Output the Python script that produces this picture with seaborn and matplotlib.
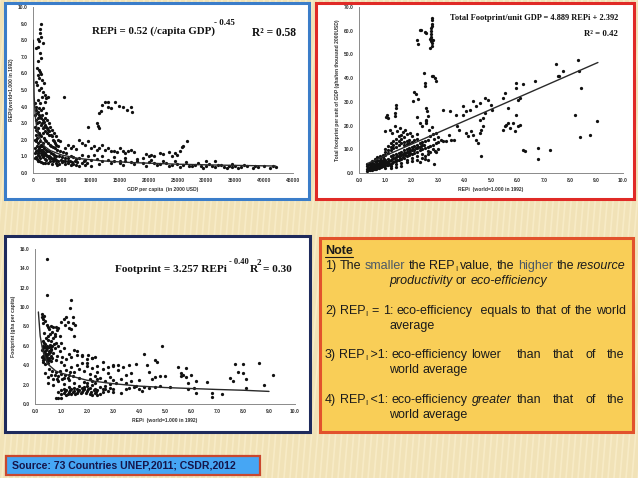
import matplotlib
matplotlib.use("Agg")
import matplotlib.pyplot as plt
import seaborn as sns
import pandas as pd
from matplotlib.patches import Rectangle
from matplotlib.lines import Line2D

# ---------------- data ----------------
# Panel 1: REPi vs GDP per capita
p1_points = [
    (1420,9.0),(1250,8.7),(1150,8.45),(1350,8.2),(1000,7.95),(800,8.05),(1700,7.85),(600,7.5),(1150,7.2),(900,7.6),
    (850,6.75),(1300,6.9),(700,6.3),(1000,6.2),(1250,6.1),(1450,5.95),(800,5.9),(1100,5.7),(1600,5.6),(1900,5.45),
    (500,5.5),(750,5.3),(1050,5.0),(1350,5.1),(1700,4.9),(2000,4.7),(2300,4.5),(2600,4.6),(2100,4.3),(1500,4.6),
    (400,4.2),(600,4.0),(800,4.4),(1000,3.9),(1200,4.2),(1400,3.8),(1600,3.5),(1800,3.9),(2000,3.3),(2200,3.6),
    (2500,3.2),(2800,3.0),(3000,2.8),(3300,2.6),(3700,2.4),(4000,2.2),(4300,2.0),(4600,1.9),(350,3.5),(500,3.2),
    (700,3.0),(900,3.3),(1100,3.1),(1300,2.9),(1500,3.0),(1700,2.7),(1900,2.8),(2100,2.5),(2400,2.4),(2700,2.3),
    (300,2.8),(450,2.6),(650,2.5),(850,2.7),(1050,2.4),(1250,2.3),(1450,2.2),(1650,2.4),(1850,2.1),(2050,2.0),
    (2300,1.9),(2600,1.8),(2900,1.7),(3200,1.6),(3500,1.55),(3800,1.5),(4200,1.4),(4700,1.3),(5200,1.25),(5700,1.2),
    (350,2.0),(550,1.9),(750,2.1),(950,1.8),(1150,1.9),(1350,1.7),(1550,1.6),(1750,1.8),(1950,1.5),(2200,1.4),
    (2500,1.35),(2800,1.3),(3100,1.2),(3400,1.15),(3700,1.1),(4000,1.05),(4500,1.0),(5000,0.95),(5500,0.9),(6000,0.88),
    (400,1.5),(600,1.3),(800,1.1),(1000,1.0),(1200,0.9),(1400,1.2),(1600,1.1),(1800,0.95),(2000,0.85),(2300,0.8),
    (500,0.95),(700,0.85),(900,0.75),(1100,0.7),(1300,0.65),(1700,0.6),(2100,0.62),(2600,0.6),(3000,0.7),(3500,0.75),
    (4000,0.6),(4500,0.55),(5000,0.65),(5500,0.55),(6000,0.6),(6500,0.5),(7000,0.55),(7500,0.5),(8000,0.45),(9000,0.5),
    (10000,0.45),(4200,0.5),(3300,0.55),(2800,1.0),(3600,0.9),(6500,1.0),(7000,0.95),(7500,0.85),(8000,0.9),(9000,0.8),
    (10000,0.8),(11000,0.85),(12000,0.75),(13000,0.8),(14000,0.7),(15000,0.75),(16000,0.7),(17000,0.65),(18000,0.7),(19000,0.6),
    (20000,0.65),(21000,0.6),(22000,0.55),(23000,0.6),(24000,0.5),(25000,0.55),(26000,0.5),(27000,0.45),(28000,0.5),(29000,0.4),
    (30000,0.45),(31000,0.4),(32000,0.5),(33000,0.35),(34000,0.4),(35000,0.45),(36000,0.35),(37000,0.4),(38000,0.3),(39000,0.35),
    (40000,0.4),(41000,0.3),(42000,0.35),(11500,0.55),(13500,0.6),(15500,0.5),(17500,0.55),(19500,0.45),(21500,0.5),(23500,0.4),
    (25500,0.35),(27500,0.4),(29500,0.3),(31500,0.35),(33500,0.3),(35500,0.3),(20500,0.8),(22500,0.75),(24500,0.7),(26500,0.65),
    (28500,0.6),(30500,0.55),(32500,0.5),(34500,0.55),(36500,0.5),(30000,0.75),(31500,0.7),(34500,0.35),(38500,0.45),(41500,0.45),
    (12000,1.0),(14000,0.95),(16000,0.9),(18000,0.85),(20000,1.0),(19000,0.9),(10500,1.1),(9500,1.05),(8500,1.1),(15000,0.6),
    (8000,2.0),(8500,1.8),(9000,1.7),(9500,1.9),(10000,1.5),(10500,1.6),(11000,1.4),(11500,1.5),(12000,1.7),(12500,1.4),
    (13000,1.5),(13500,1.35),(14000,1.3),(14500,1.25),(15000,1.5),(15500,1.3),(16000,1.2),(16500,1.35),(17000,1.4),(17500,1.25),
    (7000,1.6),(7500,1.45),(6500,1.5),(6000,1.7),(5500,1.5),
    (19500,1.15),(20500,1.1),(21000,1.05),(22000,1.2),(22500,1.15),(23500,1.25),(24500,1.2),(25500,1.35),(25800,1.55),(26000,1.6),
    (26600,1.9),(24000,1.0),(25000,1.1),
    (5300,4.55),(9500,2.8),(11000,3.0),(11200,2.85),(11350,2.7),(11500,3.6),(11800,3.75),(12000,4.1),(12500,4.25),(12900,4.3),
    (13500,3.9),(14200,4.25),(14800,4.05),(15500,4.0),(16300,3.8),(17000,4.0),(17200,3.7),(13000,4.0),
    (300,1.2),(400,0.9),(500,2.3),(600,2.0),(700,1.6),(800,1.4),(900,1.2),(1000,1.5),(1100,1.3),(1200,1.6),
    (1300,1.4),(1400,1.6),(1500,1.4),(1600,1.3),(1700,1.2),(1800,1.3),(1900,1.1),(2000,1.2),(2200,1.1),(2400,1.0),
    (2600,1.0),(2800,0.9),(3000,0.95),(3200,0.9),(3400,0.85),(3600,0.8),(3800,0.85),(4000,0.8),(4400,0.75),(4800,0.8),
    (5200,0.7),(5600,0.75),(6000,0.7),(6400,0.7),(6800,0.65),(7200,0.7),(7600,0.65),(8400,0.6),(8800,0.7),(9400,0.6),
    (450,3.8),(650,3.6),(850,3.7),(1050,3.5),(1250,3.4),(1450,3.3),(1650,3.2),(1850,3.1),(2050,2.9),(2250,2.8),
    (2450,2.7),(2650,2.6),(2850,2.5),(3050,2.3),(3250,2.2),(3450,2.0),(3650,1.9),(3850,1.8),(4050,1.7),(4250,1.65),
]
p1_fit_x = [60, 100, 200, 400, 700, 1000, 2000, 3000, 5000, 8000, 12000, 17000, 25000, 33000, 42000]
p1_fit_y = [8.0, 6.3, 4.6, 3.4, 2.6, 2.2, 1.6, 1.35, 1.08, 0.87, 0.73, 0.63, 0.53, 0.47, 0.42]

# Panel 2: total footprint per unit GDP vs REPi
p2_points = [
    (2.77,65.5),(2.78,64.5),(2.76,63.0),(2.75,62.0),(2.74,61.0),(2.73,60.0),(2.72,58.5),(2.72,57.5),(2.71,56.5),(2.74,55.5),
    (2.76,55.0),(2.70,52.5),(2.78,53.5),(2.80,56.0),(2.68,56.5),(2.20,56.2),(2.23,54.2),(2.30,60.2),(2.49,59.5),(2.55,59.0),
    (2.36,60.2),(2.45,42.2),(2.80,40.8),(2.87,40.1),(2.90,38.7),(2.49,38.0),(2.49,36.8),(2.75,41.0),(2.10,34.2),(2.17,33.5),
    (2.23,31.4),(2.05,30.2),(1.39,28.8),(1.39,27.4),(1.37,25.3),(1.36,23.9),(1.06,24.6),(1.09,23.2),(1.01,23.6),(2.55,27.4),
    (2.58,26.0),(2.61,23.9),(2.55,22.5),(2.52,21.1),(2.87,9.1),(2.83,3.8),(3.18,26.7),(3.43,26.0),(3.69,24.6),(3.94,24.6),
    (4.07,26.0),(4.19,26.7),(4.07,16.9),(4.13,15.5),(4.26,17.6),(4.32,16.2),(4.44,14.1),(4.50,12.7),(4.57,16.9),(4.63,18.3),
    (4.70,19.7),(4.63,7.0),(4.44,28.1),(4.57,29.5),(4.76,31.6),(4.89,30.9),(5.01,28.8),(5.05,26.7),(4.32,30.2),(3.94,28.1),
    (4.76,25.3),(4.60,22.5),(4.70,23.0),(5.45,18.3),(5.52,19.7),(5.58,20.4),(5.64,21.1),(5.71,19.0),(5.83,21.1),(5.90,17.6),
    (6.02,19.7),(6.11,20.4),(5.96,24.6),(5.45,31.6),(5.52,33.8),(5.64,27.4),(5.93,38.0),(5.96,35.9),(6.11,31.6),(6.02,30.9),
    (6.21,37.7),(6.65,38.7),(6.21,9.8),(6.27,9.4),(6.78,10.5),(6.78,5.9),(7.25,9.6),(7.45,46.0),(7.54,40.8),(7.57,41.0),
    (7.72,42.9),(8.31,47.8),(8.33,42.9),(8.42,35.9),(8.19,24.6),(8.38,15.2),(8.74,16.2),(9.02,21.8),
    (0.30,1.5),(0.35,2.0),(0.40,2.5),(0.45,1.8),(0.50,3.0),(0.55,2.2),(0.60,3.5),(0.65,2.8),(0.70,4.0),(0.75,3.2),
    (0.80,4.5),(0.85,3.8),(0.90,5.0),(0.95,4.2),(1.00,5.5),(0.30,2.8),(0.35,3.5),(0.40,1.2),(0.45,3.2),(0.50,1.5),
    (0.55,4.0),(0.60,1.8),(0.65,4.5),(0.70,2.2),(0.75,5.0),(0.80,2.5),(0.85,5.5),(0.90,3.0),(0.95,6.0),(1.00,3.5),
    (0.32,1.0),(0.38,1.6),(0.42,2.2),(0.48,2.6),(0.52,2.0),(0.58,2.9),(0.62,3.3),(0.68,3.0),(0.72,3.6),(0.78,4.1),
    (0.82,3.4),(0.88,4.6),(0.92,4.0),(0.98,4.8),(0.40,3.8),(0.50,4.4),(0.60,5.0),(0.70,5.6),(0.80,6.2),(0.90,6.8),
    (1.05,4.5),(1.10,6.0),(1.15,5.2),(1.20,7.0),(1.25,6.0),(1.30,7.5),(1.35,6.5),(1.40,8.0),(1.45,7.0),(1.50,8.5),
    (1.55,7.5),(1.60,9.0),(1.65,8.0),(1.70,9.5),(1.75,8.5),(1.80,10.0),(1.85,9.0),(1.90,10.5),(1.95,9.5),(2.00,11.0),
    (2.05,10.0),(2.10,11.5),(2.15,10.5),(2.20,12.0),(2.25,11.0),(2.30,12.5),(2.35,11.5),(2.40,13.0),(2.45,12.0),(2.50,13.5),
    (1.10,3.5),(1.20,4.0),(1.30,4.5),(1.40,5.0),(1.50,5.5),(1.60,6.0),(1.70,6.5),(1.80,7.0),(1.90,7.5),(2.00,8.0),
    (2.10,8.5),(2.20,9.0),(2.30,9.5),(2.40,10.0),(2.50,10.5),(2.60,11.0),(2.70,11.5),(2.80,12.0),(2.90,12.5),(3.00,13.0),
    (1.00,7.5),(1.10,8.5),(1.20,9.5),(1.30,10.5),(1.40,11.0),(1.50,12.0),(1.60,12.5),(1.70,13.0),(1.80,13.5),(1.90,14.0),
    (1.00,10.0),(1.10,11.5),(1.20,12.5),(1.30,13.5),(1.40,14.5),(1.50,15.5),(1.60,16.0),(1.70,15.0),(1.80,16.5),(2.00,15.5),
    (0.97,17.6),(1.16,18.3),(1.35,19.7),(1.54,19.0),(1.73,18.3),(1.92,16.9),(1.25,17.0),(1.45,17.5),(1.65,17.2),(2.20,16.5),
    (2.60,14.0),(2.70,15.5),(2.80,16.5),(2.90,17.0),(2.65,18.0),(2.75,19.5),(2.85,14.5),(3.00,15.0),(3.10,14.0),(3.20,13.5),
    (2.40,6.5),(2.50,7.0),(2.60,8.0),(2.70,9.0),(2.20,5.5),(2.00,5.0),(1.80,4.5),(1.60,3.0),(1.40,2.5),(1.20,2.0),
    (2.90,9.0),(3.00,10.0),(2.50,6.0),(2.30,4.5),(2.60,5.5),(3.30,13.5),(3.50,13.8),(3.60,14.0),(3.40,16.0),(3.80,18.0),
    (3.70,20.0),(2.20,23.5),(2.30,21.0),(2.40,20.0),(2.55,22.0),
    (0.35,1.2),(0.40,1.8),(0.45,2.4),(0.50,1.1),(0.55,1.6),(0.60,2.4),(0.65,1.5),(0.70,3.0),(0.75,2.0),(0.80,3.6),
    (0.85,2.6),(0.90,3.8),(0.95,2.8),(1.00,4.4),(1.05,3.2),(1.10,4.8),(1.15,3.8),(1.20,5.4),(1.25,4.4),(1.30,6.2),
    (1.35,5.0),(1.40,6.8),(1.45,5.6),(1.50,7.2),(1.55,6.2),(1.60,7.8),(1.65,6.8),(1.70,8.4),(1.75,7.4),(1.80,8.8),
    (1.85,7.8),(1.90,9.2),(1.95,8.4),(2.00,9.8),(2.10,9.6),(2.20,10.4),(2.30,10.8),(2.40,11.6),
    (0.30,3.6),(0.40,4.4),(0.50,5.2),(0.60,5.8),(0.70,6.6),(0.80,7.2),(0.90,7.8),(1.00,8.8),(1.10,9.6),(1.20,10.8),
    (1.30,11.8),(1.40,12.6),(1.50,13.6),(1.60,14.2),(1.70,11.8),(1.80,12.2),(1.90,12.8),(2.00,13.2),(2.10,13.8),(2.20,14.4),
    (1.00,2.0),(1.20,2.8),(1.40,3.6),(1.60,4.2),(1.80,5.6),(2.00,6.4),(2.20,7.2),(2.40,8.2),(2.60,9.2),(2.80,10.2),
]
p2_fit_x = [0.3, 9.05]
p2_fit_y = [3.9, 46.6]

# Panel 3: footprint per capita vs REPi
p3_points = [
    (0.45,15.0),(0.45,11.3),(1.38,10.7),(1.35,9.9),(1.10,8.8),(1.20,9.0),(1.25,8.5),(1.30,7.8),(1.40,7.7),(1.45,8.4),
    (1.50,7.0),(1.15,8.2),(1.45,9.0),(1.55,8.2),(1.00,8.5),
    (0.25,9.3),(0.28,9.0),(0.32,8.8),(0.35,9.1),(0.30,8.4),(0.40,8.6),(0.45,8.2),(0.50,8.0),(0.55,7.7),(0.60,8.1),
    (0.65,7.4),(0.70,7.9),(0.75,7.2),(0.80,8.0),(0.85,7.6),(0.90,7.8),(0.95,7.0),(0.70,6.8),(0.50,7.0),(0.35,7.3),
    (0.30,6.5),(0.40,6.2),(0.50,6.6),(0.60,6.0),(0.45,5.8),(0.55,5.5),(0.35,5.3),(0.30,5.0),(0.40,4.8),(0.50,5.2),
    (0.60,5.0),(0.65,4.7),(0.70,5.3),(0.75,5.8),(0.80,6.3),(0.85,5.0),(0.90,6.0),(0.30,4.5),(0.35,4.6),(0.45,4.4),
    (0.55,4.8),(0.25,4.9),(0.28,5.6),(0.32,6.0),(0.38,5.9),(0.42,5.2),(0.48,4.7),(0.52,5.9),(0.58,5.4),(0.62,6.5),
    (0.30,4.3),(0.40,4.1),(0.50,4.2),(0.60,4.4),(0.95,5.5),(1.00,6.3),(1.05,4.9),(1.10,5.8),
    (0.40,3.2),(0.50,2.8),(0.60,3.0),(0.70,2.6),(0.80,3.3),(0.90,2.9),(1.00,3.1),(1.10,2.7),(1.20,3.5),(1.30,3.0),
    (1.40,3.8),(1.50,3.3),(1.60,4.0),(1.70,3.6),(1.80,4.2),(1.90,3.4),(2.00,3.9),(2.10,3.1),(2.20,3.7),(2.30,2.9),
    (0.50,2.2),(0.70,2.0),(0.90,2.4),(1.10,2.1),(1.30,2.5),(1.50,2.2),(1.70,2.7),(1.90,2.3),(2.10,2.6),(2.30,2.2),
    (2.50,2.7),(2.70,2.4),(2.90,2.8),(2.40,3.3),(2.60,3.6),(2.80,3.2),(3.00,2.5),(1.20,4.6),(1.40,4.9),(1.60,5.5),
    (1.00,4.3),(0.80,4.5),(1.80,5.0),(2.00,4.6),(2.20,4.8),(1.50,5.6),(1.30,5.2),(1.10,4.0),
    (0.80,0.6),(0.90,0.65),(1.00,0.6),(1.00,1.0),(1.10,1.1),(1.20,0.9),(1.30,1.2),(1.40,1.0),(1.50,1.3),(1.60,1.1),
    (1.70,1.4),(1.80,1.2),(1.90,1.5),(2.00,1.3),(2.10,1.0),(2.20,0.9),(2.30,1.1),(2.40,0.95),(2.50,1.0),(2.60,1.2),
    (2.70,1.5),(2.80,1.3),(2.90,1.7),(3.00,1.5),(1.10,1.6),(1.30,1.8),(1.50,1.7),(1.70,1.9),(1.90,1.8),(2.10,1.7),
    (2.30,1.6),(2.50,1.8),(1.20,1.4),(1.40,1.5),(1.60,1.6),(1.80,1.7),(2.00,1.9),(2.20,2.0),(2.40,1.4),(2.60,1.6),
    (1.60,5.1),(1.80,5.1),(2.00,4.2),(2.20,4.8),(2.40,3.9),(2.60,4.3),(2.80,3.8),(3.00,3.9),(3.20,4.0),(2.05,5.1),(2.30,4.9),
    (3.00,4.0),(3.20,3.5),(3.40,3.8),(3.50,3.0),(3.60,4.0),(3.70,3.2),(3.90,4.1),(4.00,2.5),(4.10,1.3),(4.20,5.2),
    (4.30,4.0),(4.40,3.3),(4.50,2.6),(4.60,4.5),(4.60,2.8),(4.70,4.3),(4.80,2.9),(4.90,6.0),(5.00,2.9),(5.20,1.8),
    (5.50,3.8),(5.60,3.2),(5.60,2.9),(5.70,3.0),(5.80,3.7),(5.80,2.8),(5.90,2.2),(5.90,1.6),(6.00,3.0),(6.10,1.7),
    (6.20,1.1),(6.20,2.4),(6.60,2.3),(6.80,1.1),(6.80,0.7),(7.20,1.0),(7.50,2.7),(7.60,2.4),(7.70,4.1),(7.80,3.3),
    (8.00,4.1),(8.00,3.2),(8.10,2.6),(8.10,1.7),(8.60,4.2),(8.80,2.0),(9.15,3.0),
    (3.00,1.2),(3.30,1.1),(3.50,1.5),(3.80,1.8),(4.00,1.6),(4.20,1.8),(4.40,1.7),(4.60,1.8),(4.80,1.9),(3.60,1.7),
    (0.33,5.4),(0.37,5.0),(0.43,5.6),(0.47,6.0),(0.53,5.3),(0.57,6.1),(0.63,5.7),(0.36,6.3),(0.44,6.8),(0.56,7.2),
    (0.30,5.8),(0.50,4.6),(0.40,5.5),(0.60,5.6),(0.34,4.8),(0.46,5.1),(0.54,4.5),(0.66,6.0),(0.72,6.2),(0.78,7.0),
    (0.90,1.2),(1.00,1.4),(1.15,1.3),(1.25,1.0),(1.35,1.4),(1.45,1.2),(1.55,1.0),(1.65,1.3),(1.75,1.1),(1.85,1.4),
    (1.95,1.1),(2.05,1.5),(2.15,1.2),(2.25,1.4),(2.35,1.2),(1.05,2.6),(1.15,3.0),(1.25,2.7),(1.35,3.3),(1.45,2.9),
    (0.95,3.4),(0.85,2.6),(0.75,3.0),(0.65,3.4),(0.55,3.6),(2.70,1.9),(2.90,2.1),(3.10,2.2),(3.30,2.6),(3.50,2.2),
    (3.70,2.4),(3.90,1.9),(2.40,2.6),(2.20,2.4),(2.00,2.2),
]
p3_fit_x = [0.13, 0.2, 0.3, 0.5, 0.8, 1.0, 1.5, 2.0, 3.0, 4.0, 5.0, 6.0, 7.0, 8.0, 9.0]
p3_fit_y = [9.5, 7.0, 5.5, 4.1, 3.4, 3.2, 2.8, 2.45, 2.1, 1.85, 1.7, 1.6, 1.5, 1.42, 1.3]

p1_xticks = [0, 5000, 10000, 15000, 20000, 25000, 30000, 35000, 40000, 45000]
p1_yticks = [0, 1, 2, 3, 4, 5, 6, 7, 8, 9, 10]
p2_xticks = [0, 1, 2, 3, 4, 5, 6, 7, 8, 9, 10]
p2_yticks = [0, 10, 20, 30, 40, 50, 60, 70]
p3_xticks = [0, 1, 2, 3, 4, 5, 6, 7, 8, 9, 10]
p3_yticks = [0, 2, 4, 6, 8, 10, 12, 14, 16]

# ---------------- figure ----------------
sns.set_style("white")
plt.rcParams['font.family'] = ['Liberation Sans', 'DejaVu Sans']

W, H = 638, 478
fig = plt.figure(figsize=(W / 100, H / 100), dpi=100)
fig.patch.set_facecolor('#F1E2B7')
renderer = fig.canvas.get_renderer()

# faint background stripes
for i in range(0, W + 200, 6):
    fig.add_artist(Line2D([(i) / W, (i - 40) / W], [1, 0], transform=fig.transFigure,
                          color='#FFF6DA', lw=1.2, alpha=0.45, zorder=-3))


def rect(x0, y0, x1, y1, fc, ec, lw, z=-2):
    fig.add_artist(Rectangle((x0 / W, 1 - y1 / H), (x1 - x0) / W, (y1 - y0) / H,
                             transform=fig.transFigure, facecolor=fc, edgecolor=ec,
                             linewidth=lw, zorder=z))


rect(5, 3, 309, 199, 'white', '#3B7DC9', 2.2)
rect(316, 3, 634, 199, 'white', '#E02A26', 2.2)
rect(5, 236, 310, 432, 'white', '#1E2A5C', 2.2)
rect(320, 238, 633, 432, '#F9CE57', '#E2522C', 2.2)
rect(6, 456, 260, 475, '#46A6F4', '#C9472E', 1.6)


def ax_at(x0, y0, x1, y1):
    a = fig.add_axes([x0 / W, 1 - y1 / H, (x1 - x0) / W, (y1 - y0) / H])
    a.set_facecolor('none')
    return a


def style(ax, xlim, ylim, xticks, yticks, xfmt, yfmt, xlabel, ylabel):
    ax.set_xlim(*xlim)
    ax.set_ylim(*ylim)
    ax.set_xticks(xticks)
    ax.set_xticklabels([xfmt(v) for v in xticks])
    ax.set_yticks(yticks)
    ax.set_yticklabels([yfmt(v) for v in yticks])
    for s in ['top', 'right']:
        ax.spines[s].set_visible(False)
    for s in ['left', 'bottom']:
        ax.spines[s].set_color('#8a8a8a')
        ax.spines[s].set_linewidth(0.7)
    ax.tick_params(axis='both', labelsize=3.6, length=1.8, width=0.5, pad=2,
                   colors='#8a8a8a', labelcolor='#333333', direction='out')
    for lab in ax.get_xticklabels() + ax.get_yticklabels():
        lab.set_fontweight('bold')
    ax.set_xlabel(xlabel, fontsize=3.6, fontweight='bold', color='#333333', labelpad=3)
    ax.set_ylabel(ylabel, fontsize=3.6, fontweight='bold', color='#333333', labelpad=3)


def draw_panel(ax, pts, fx_, fy_, xname, yname):
    df = pd.DataFrame(pts, columns=[xname, yname])
    sns.scatterplot(data=df, x=xname, y=yname, ax=ax, s=5.5, color='#111111',
                    linewidth=0, legend=False, zorder=3)
    sns.lineplot(x=fx_, y=fy_, ax=ax, color='#2a2a2a', lw=1.0, sort=False,
                 estimator=None, zorder=4)


ax1 = ax_at(33, 7, 293, 173)
draw_panel(ax1, p1_points, p1_fit_x, p1_fit_y, 'gdp', 'repi')
style(ax1, (0, 45000), (0, 10), p1_xticks, p1_yticks, lambda v: f"{v:d}",
      lambda v: f"{v:.1f}", "GDP per capita  (in 2000 USD)", "REPi(world=1.000 in 1992)")

ax2 = ax_at(359, 7, 623, 173)
draw_panel(ax2, p2_points, p2_fit_x, p2_fit_y, 'repi', 'fp_gdp')
style(ax2, (0, 10), (0, 70), p2_xticks, p2_yticks, lambda v: f"{v:.1f}",
      lambda v: f"{v:.1f}", "REPi  (world=1.000 in 1992)",
      "Total footprint per unit of GDP (gha/ten thousand 2000USD)")

ax3 = ax_at(35, 249, 295, 404)
draw_panel(ax3, p3_points, p3_fit_x, p3_fit_y, 'repi', 'fp')
style(ax3, (0, 10), (0, 16), p3_xticks, p3_yticks, lambda v: f"{v:.1f}",
      lambda v: f"{v:.1f}", "REPi  (world=1.000 in 1992)", "Footprint (gha per capita)")


# ---------------- text helpers ----------------
def ftext(x, y, s, **kw):
    return fig.text(x / W, 1 - y / H, s, **kw)


def measure(s, **kw):
    t1 = fig.text(0, 0, 'x' + s + 'x', **kw)
    w1 = t1.get_window_extent(renderer).width
    t1.remove()
    t0 = fig.text(0, 0, 'xx', **kw)
    w0 = t0.get_window_extent(renderer).width
    t0.remove()
    return w1 - w0


SERIF = ['Liberation Serif', 'DejaVu Serif']
eq = dict(family=SERIF, fontweight='bold', color='#111111', va='baseline')

# Panel 1 equation
ftext(92, 34, "REPi = 0.52 (/capita GDP)", fontsize=7.8, **eq)
ftext(214, 25, "- 0.45", fontsize=6.5, **eq)
ftext(252, 36, "R² = 0.58", fontsize=8.3, **eq)
# Panel 2 equation
ftext(618, 20, "Total Footprint/unit GDP = 4.889 REPi + 2.392", fontsize=6.0,
      ha='right', **eq)
ftext(618, 36, "R² = 0.42", fontsize=6.3, ha='right', **eq)
# Panel 3 equation
ftext(115, 272, "Footprint = 3.257 REPi", fontsize=8.1, **eq)
ftext(229, 264, "- 0.40", fontsize=6.0, **eq)
ftext(250, 272, "R", fontsize=8.1, **eq)
ftext(257, 265, "2", fontsize=6.5, **eq)
ftext(263, 272, "= 0.30", fontsize=8.1, **eq)

# ---------------- note box ----------------
NS = 9.0
BASE = dict(fontsize=NS, color='#1b1b1b', va='baseline')
GRAYC = '#4a5866'


def draw_line(x0, y, words, right=None, gap=None):
    """words: list of (parts, at) where parts is list of (text, opts)."""
    space = measure(' ', **BASE)
    widths = []
    for parts, at in words:
        w = 0
        for txt, o in parts:
            kw = dict(BASE)
            if o.get('sub'):
                kw['fontsize'] = NS * 0.62
            kw.update({k: v for k, v in o.items() if k != 'sub'})
            w += measure(txt, **kw)
        widths.append(w)
    if right is not None and len(words) > 1:
        g = (right - x0 - sum(widths)) / (len(words) - 1)
    else:
        g = space if gap is None else gap
    x = x0
    for (parts, at), w in zip(words, widths):
        if at is not None:
            x = at
        xx = x
        for txt, o in parts:
            kw = dict(BASE)
            dy = 0
            if o.get('sub'):
                kw['fontsize'] = NS * 0.62
                dy = 2.2
            kw.update({k: v for k, v in o.items() if k != 'sub'})
            ftext(xx, y + dy, txt, **kw)
            xx += measure(txt, **kw)
        x = x + w + g
    return x


def W_(s, **o):
    return ([(s, o)], None)


IT = dict(style='italic')
ftext(325, 254.5, "Note", fontweight='bold', **BASE)
nw = measure("Note", fontweight='bold', **BASE)
fig.add_artist(Line2D([325 / W, (325 + nw) / W], [1 - 256.7 / H] * 2,
                      transform=fig.transFigure, color='#1b1b1b', lw=0.8))

L = 389
draw_line(325, 269, [W_("1)"), W_("The"), W_("smaller", color=GRAYC), W_("the"),
                     ([("REP", {}), ("I", {'sub': True})], None), W_("value,"), W_("the"),
                     W_("higher", color=GRAYC), W_("the"), W_("resource", **IT)], right=626)
draw_line(L, 284, [W_("productivity", **IT), W_("or"), W_("eco-efficiency", **IT)])
draw_line(325, 314, [W_("2)"), ([("REP", {}), ("I", {'sub': True})], None), W_("="), W_("1:"),
                     W_("eco-efficiency"), W_(" equals"), W_("to"), W_("that"), W_("of"),
                     W_("the"), W_("world")], right=626)
draw_line(L, 329, [W_("average")])
draw_line(325, 358, [W_("3)"), ([("REP", {}), ("I", {'sub': True}), (" >1:", {})], None),
                     W_("eco-efficiency"), W_("lower"),
                     ([("than", {})], 517), ([("that", {})], 553), ([("of", {})], 586),
                     ([("the", {})], 607)])
draw_line(L, 373, [W_("world"), W_("average")])
draw_line(325, 403, [W_("4)"), ([("REP", {}), ("I", {'sub': True}), (" <1:", {})], None),
                     W_("eco-efficiency"), W_("greater", **IT),
                     ([("than", {})], 517), ([("that", {})], 553), ([("of", {})], 586),
                     ([("the", {})], 607)])
draw_line(L, 418, [W_("world"), W_("average")])

# ---------------- source box ----------------
ftext(12, 469, "Source: 73 Countries UNEP,2011; CSDR,2012", fontsize=7.6,
      fontweight='bold', color='#15154a', va='baseline')

fig.savefig("out.png", dpi=100, facecolor=fig.get_facecolor())
